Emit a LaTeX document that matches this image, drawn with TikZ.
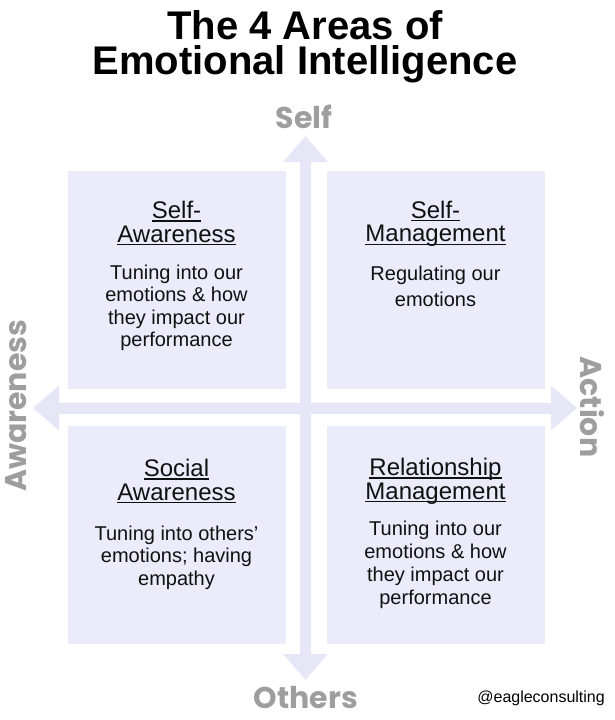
\documentclass[tikz,border=0pt]{standalone}
\usepackage{fontspec}
\setmainfont{Liberation Sans}
\newfontfamily\axisfont{Poppins}
\usetikzlibrary{arrows.meta}
\definecolor{boxfill}{RGB}{235,235,250}
\definecolor{arrowfill}{RGB}{230,230,247}
\definecolor{axisgray}{RGB}{158,158,158}
\definecolor{ink}{RGB}{17,17,17}
\newcommand\ulword[1]{\setbox0\hbox{#1}\rlap{\rule[-3.2pt]{\wd0}{1.3pt}}\box0}
\begin{document}
\begin{tikzpicture}[x=1pt,y=-1pt,
  quad/.style={fill=boxfill, draw=none, minimum width=218pt, minimum height=218pt, anchor=north west, inner sep=0pt},
  head/.style={font=\fontsize{24}{23.5}\selectfont, text=ink, align=center, inner sep=0pt, anchor=base},
  body/.style={font=\fontsize{20}{22.6}\selectfont, text=ink, align=center, inner sep=0pt, anchor=base},
  axis/.style={font=\axisfont\bfseries\fontsize{30}{30}\selectfont, text=axisgray, inner sep=0pt},
  axisarrow/.style={draw=arrowfill, line width=11pt, {Triangle[width=43pt,length=26pt]}-{Triangle[width=43pt,length=26pt]}}
]
\fill[white] (0,0) rectangle (614,720);
\useasboundingbox (0,0) rectangle (614,720);

% title (base = last line)
\node[font=\bfseries\fontsize{40}{35}\selectfont, align=center, inner sep=0pt, anchor=base] (title) at (305,74) {The 4 Areas of\\Emotional Intelligence};

% quadrants
\node[quad] (tl) at (67.5,171) {};
\node[quad] (tr) at (326.5,171) {};
\node[quad] (bl) at (67.5,426) {};
\node[quad] (br) at (326.5,426) {};

% axis arrows
\coordinate (up) at (305.5,136);
\coordinate (down) at (305.5,680);
\coordinate (left) at (33,408);
\coordinate (right) at (577,408);
\draw[axisarrow] (down) -- (up);
\draw[axisarrow] (left) -- (right);

% axis labels
\node[axis, anchor=base] (self) at (304,128) {Self};
\node[axis, anchor=base] (others) at (306,708) {Others};
\node[axis, rotate=90] (aware) at (16.5,406) {Awareness};
\node[axis, rotate=-90] (action) at (592,407) {Action};

% texts (anchor base = baseline of the last line)
\node[head] (tlh) at (176.5,242) {\ulword{Self-}\\\ulword{Awareness}};
\node[body] (tlb) at (176.5,346.8) {Tuning into our\\emotions \& how\\they impact our\\performance};

\node[head] (trh) at (435.5,241.7) {\ulword{Self-}\\\ulword{Management}};
\node[body, font=\fontsize{20}{26.7}\selectfont] (trb) at (435.5,306.7) {Regulating our\\emotions};

\node[head] (blh) at (176.5,500) {\ulword{Social}\\\ulword{Awareness}};
\node[body, font=\fontsize{20}{22.5}\selectfont] (blb) at (176.5,585) {Tuning into others’\\emotions; having\\empathy};

\node[head] (brh) at (435.5,499) {\ulword{Relationship}\\\ulword{Management}};
\node[body, font=\fontsize{20}{23}\selectfont] (brb) at (435.5,604) {Tuning into our\\emotions \& how\\they impact our\\performance};

% credit
\node[font=\fontsize{16}{16}\selectfont, inner sep=0pt, anchor=base east] (credit) at (605,702) {@eagleconsulting};
\end{tikzpicture}
\end{document}
